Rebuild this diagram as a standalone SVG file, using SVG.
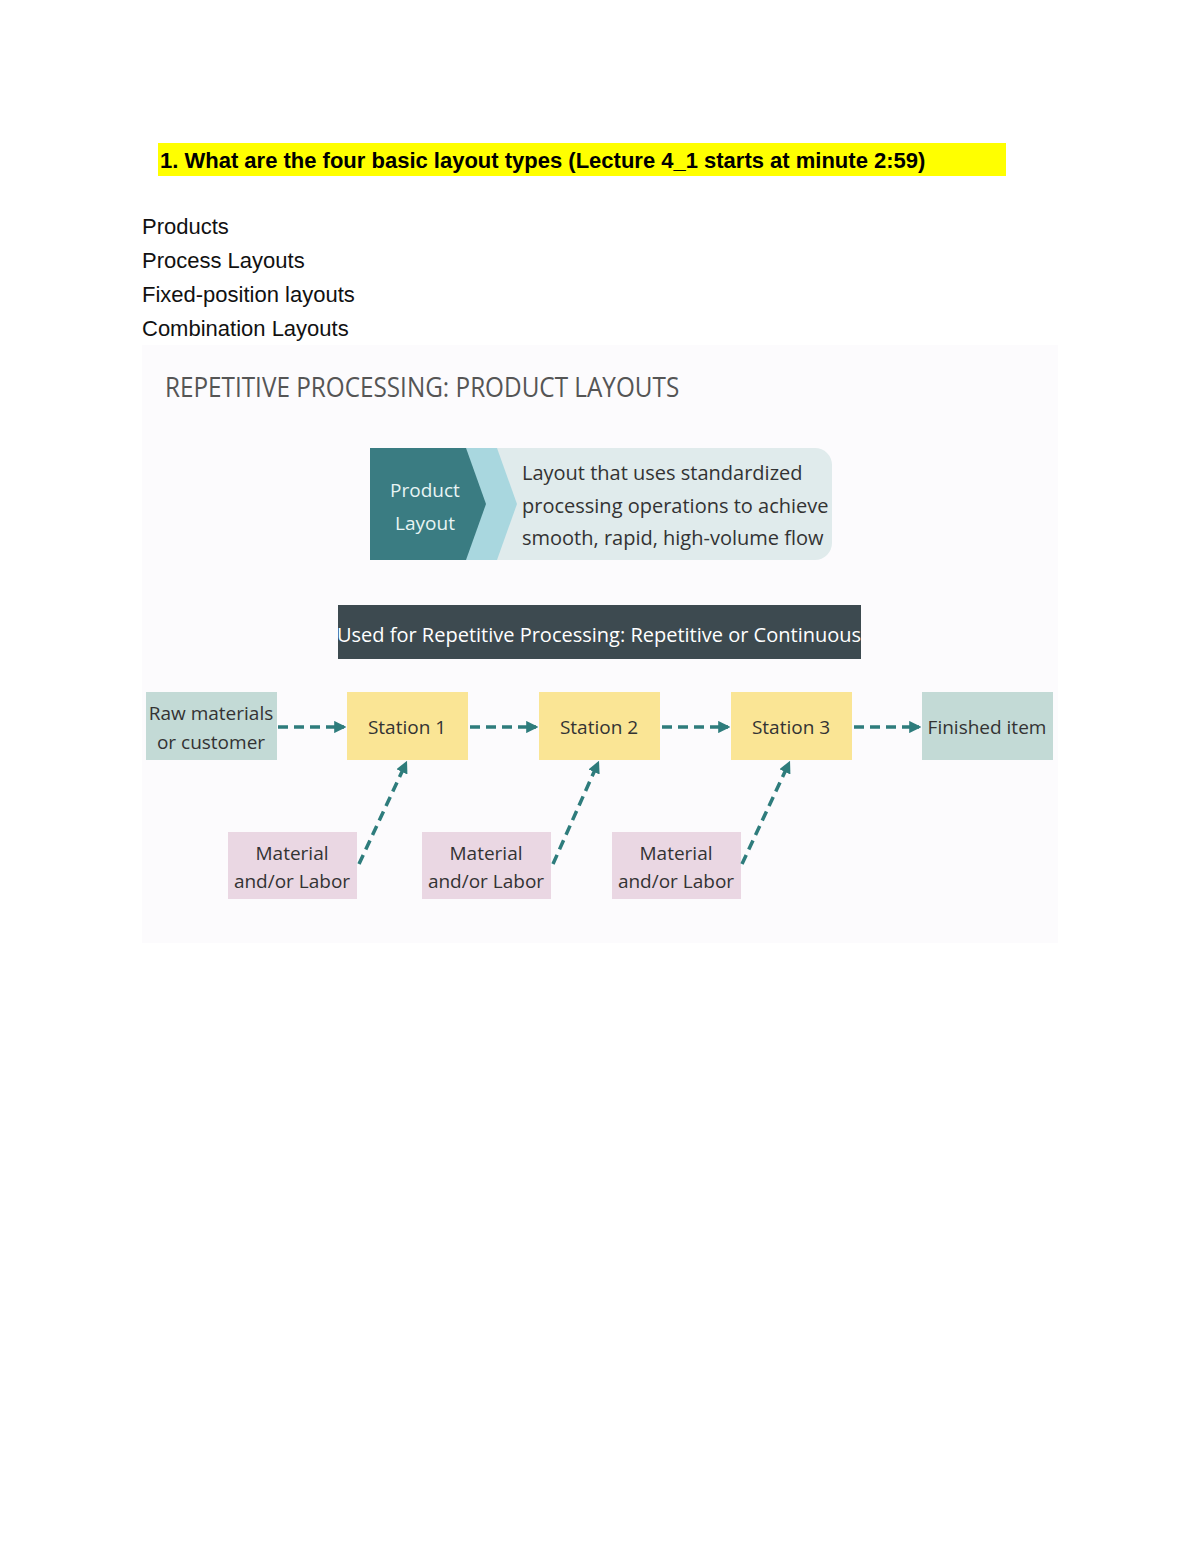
<svg xmlns="http://www.w3.org/2000/svg" width="1200" height="1553" viewBox="0 0 1200 1553">
<style>
.h{font-family:"Liberation Sans",Arial,sans-serif;font-size:22px;font-weight:bold;fill:#000}
.l{font-family:"Liberation Sans",Arial,sans-serif;font-size:22px;fill:#111}
.t{font-family:"Open Sans","Liberation Sans",sans-serif;font-size:19px;fill:#333;text-anchor:middle}
.c{stroke:#2e7c7c;stroke-width:3.5;stroke-dasharray:10 6;fill:none;marker-end:url(#a)}
</style>
<defs><marker id="a" viewBox="0 0 10 10" refX="8" refY="5" markerWidth="3.5" markerHeight="3.5" orient="auto"><path d="M0,0L10,5L0,10z" fill="#2e7c7c"/></marker></defs>
<rect width="1200" height="1553" fill="#fff"/>
<rect x="158" y="143" width="848" height="33" fill="#ffff00"/>
<text class="h" x="160" y="168">1.   What are the four basic layout types (Lecture 4_1 starts at minute 2:59)</text>
<text class="l" x="142" y="234">Products</text>
<text class="l" x="142" y="268">Process Layouts</text>
<text class="l" x="142" y="302">Fixed-position layouts</text>
<text class="l" x="142" y="336">Combination Layouts</text>
<rect x="142" y="345" width="916" height="598" fill="#fcfbfd"/>
<text x="165" y="397" font-family="'Open Sans','Liberation Sans',sans-serif" font-size="27" fill="#555" transform="translate(165 0) scale(0.9 1) translate(-165 0)">REPETITIVE PROCESSING: PRODUCT LAYOUTS</text>
<g id="def">
<path d="M470,448H815a17,17 0 0 1 17,17V543a17,17 0 0 1-17,17H470z" fill="#e0ebec"/>
<path d="M465,448H497L517,504L497,560H465z" fill="#a9d7df"/>
<path d="M370,448H466L486,504L466,560H370z" fill="#3a7c82"/>
<text class="t" x="425" y="497" fill="#fff" style="fill:#e8f4f4">Product</text>
<text class="t" x="425" y="530" style="fill:#e8f4f4">Layout</text>
<text class="t" x="522" y="480" style="text-anchor:start;font-size:20px">Layout that uses standardized</text>
<text class="t" x="522" y="513" style="text-anchor:start;font-size:20px">processing operations to achieve</text>
<text class="t" x="522" y="545" style="text-anchor:start;font-size:20px">smooth, rapid, high-volume flow</text>
</g>
<g id="banner"><rect x="338" y="605" width="523" height="54" fill="#3d4a50"/>
<text class="t" x="599" y="642" style="fill:#fff;font-size:20px">Used for Repetitive Processing: Repetitive or Continuous</text></g>
<g id="raw"><rect x="146" y="692" width="131" height="68" fill="#c3dad6"/><text class="t" x="211" y="720">Raw materials</text><text class="t" x="211" y="749">or customer</text></g>
<g id="s1"><rect x="347" y="692" width="121" height="68" fill="#fae595"/><text class="t" x="407" y="734">Station 1</text></g>
<g id="s2"><rect x="539" y="692" width="121" height="68" fill="#fae595"/><text class="t" x="599" y="734">Station 2</text></g>
<g id="s3"><rect x="731" y="692" width="121" height="68" fill="#fae595"/><text class="t" x="791" y="734">Station 3</text></g>
<g id="fin"><rect x="922" y="692" width="131" height="68" fill="#c3dad6"/><text class="t" x="987" y="734">Finished item</text></g>
<g id="m1"><rect x="228" y="832" width="129" height="67" fill="#ead7e3"/><text class="t" x="292" y="860">Material</text><text class="t" x="292" y="888">and/or Labor</text></g>
<g id="m2"><rect x="422" y="832" width="129" height="67" fill="#ead7e3"/><text class="t" x="486" y="860">Material</text><text class="t" x="486" y="888">and/or Labor</text></g>
<g id="m3"><rect x="612" y="832" width="129" height="67" fill="#ead7e3"/><text class="t" x="676" y="860">Material</text><text class="t" x="676" y="888">and/or Labor</text></g>
<g id="connectors">
<path class="c" d="M278,727H344"/>
<path class="c" d="M470,727H536"/>
<path class="c" d="M662,727H728"/>
<path class="c" d="M854,727H919"/>
<path class="c" d="M359,864L406,763"/>
<path class="c" d="M553,864L598,763"/>
<path class="c" d="M742,864L789,763"/>
</g>
</svg>
